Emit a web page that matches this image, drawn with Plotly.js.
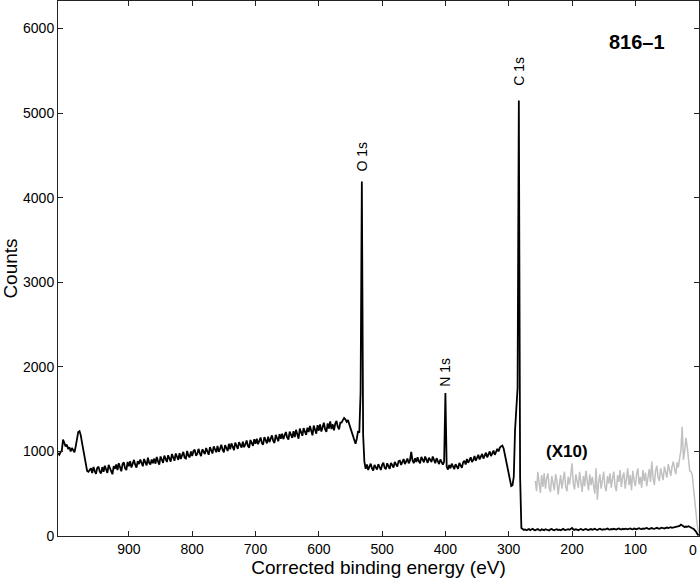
<!DOCTYPE html>
<html>
<head>
<meta charset="utf-8">
<script src="https://cdn.plot.ly/plotly-3.0.1.min.js"></script>
<style>
html,body{margin:0;padding:0;background:#fff;}
#chart{width:700px;height:578px;}
</style>
</head>
<body>
<div id="chart"></div>
<script>
// Survey spectrum: binding energy grid starts at 1012 eV, step -2 eV (down to 0 eV)
const energyStart = 1012;
const energyStep = -2;

// 1012 -> 962 eV
const countsHighBE = [980,960,990,1010,1140,1100,1060,1080,1030,1050,1000,1040,1020,990,1060,1150,1230,1240,1190,1100,1010,920,820,770,760,780];
// 960 -> 566 eV (sloping background)
const countsBackground = [
800,745,815,770,735,805,820,760,740,815,
760,830,785,745,840,800,765,730,825,795,
845,780,860,805,765,850,870,800,780,875,
825,885,810,855,900,840,810,885,850,905,
850,825,910,880,835,925,865,845,905,860,
915,855,935,880,845,940,890,865,950,900,
875,955,920,880,970,925,890,975,930,900,
980,910,955,995,925,915,1005,950,930,1000,
945,1005,1020,950,970,1030,980,945,1025,990,
970,1040,1000,960,1050,1010,975,1060,1015,990,
1065,995,1030,1080,1020,990,1075,1040,1005,1090,
1025,1095,1055,1015,1105,1065,1030,1110,1070,1045,
1115,1050,1085,1130,1065,1045,1135,1100,1065,1145,
1090,1150,1085,1125,1165,1100,1080,1170,1130,1095,
1175,1110,1150,1190,1125,1100,1195,1160,1120,1205,
1150,1210,1145,1190,1230,1165,1140,1235,1195,1160,
1240,1170,1255,1210,1150,1270,1220,1185,1275,1225,
1195,1280,1230,1300,1235,1190,1305,1250,1210,1310,
1245,1320,1235,1285,1340,1260,1230,1330,1270,1355,
1265,1320,1250,1330,1360,1290,1260,1340];
// 564 -> 528 eV (O 1s region)
const countsO1s = [1340,1370,1395,1380,1350,1370,1320,1280,1230,1180,1120,1090,1150,1240,1220,1700,4190,1200,880];
// 526 -> 404 eV
const countsMid = [
795,845,780,820,855,800,775,840,810,785,
850,815,780,840,865,805,790,860,825,795,
865,835,810,875,840,820,885,890,840,870,
910,850,880,915,860,890,995,895,860,920,
875,930,885,860,935,900,870,940,890,865,
925,900,875,940,890,860,920,885,850,905,
870,845];
// 402 -> 398 eV (N 1s)
const countsN1s = [880,1690,820];
// 396 -> 314 eV
const countsPreC = [
785,840,800,855,815,790,850,820,795,865,
825,805,870,890,845,910,865,900,930,875,
900,945,890,925,960,905,940,970,915,950,
985,930,965,1000,945,980,1010,960,995,1030,
1000,1045];
// 312 -> 280 eV (C 1s region)
const countsC1s = [1060,1070,1035,965,890,820,750,660,590,600,700,1250,1600,1750,5150,700,95];
// 278 -> 0 eV (low BE, as measured)
const countsLowBE = [
80,72,78,68,75,82,70,76,85,73,
68,77,82,71,66,79,74,69,81,76,
70,65,78,83,72,68,76,80,71,74,
67,78,84,73,70,77,81,74,86,95,
78,72,80,75,69,77,83,76,71,79,
84,75,70,78,82,74,79,85,77,72,
80,86,78,74,81,76,83,88,79,75,
82,78,85,80,76,84,89,81,77,85,
80,87,83,78,86,90,82,79,88,84,
80,87,92,85,81,88,84,90,95,87,
83,90,94,88,85,92,97,90,86,94,
99,92,88,96,100,94,98,104,97,101,
96,103,108,112,120,135,125,110,105,112,
108,115,104,95,92,85,70,50,25,5];

// Magnified (X10) low-BE part: 258 -> 0 eV, step -2 eV
const zoomStart = 258;
const countsX10 = [
650,530,760,600,510,720,580,740,560,680,
740,570,520,710,620,540,730,660,490,620,
720,560,650,760,580,530,700,610,720,860,
620,550,730,660,570,760,630,520,710,590,
770,640,540,730,600,700,570,500,800,430,
630,730,560,660,760,580,530,710,620,740,
570,680,760,590,530,720,640,780,580,700,
750,560,670,800,600,720,540,770,660,590,
730,800,610,700,570,780,650,750,590,720,
790,640,880,690,600,770,830,690,650,800,
740,660,820,750,690,850,770,710,820,880,
790,730,870,810,920,1010,1290,900,1010,1160,
1050,880,770,760,720,560,400,250,120,40];

const xTicks = [900,800,700,600,500,400,300,200,100,0];
// last label (0) sits on the right frame edge; it is drawn as an annotation nudged inward
const xTickText = ['900','800','700','600','500','400','300','200','100',''];
const edgeTickLabel = '0';
const yTicks = [0,1000,2000,3000,4000,5000,6000];

const peakLabels = ['O 1s','N 1s','C 1s'];
const peakLabelX = [532,400,284];
const peakLabelY = [4484,1935,5499];

const sampleName = '816–1';
const magLabel = '(X10)';

const countsSurvey = [].concat(countsHighBE, countsBackground, countsO1s, countsMid, countsN1s, countsPreC, countsC1s, countsLowBE);

const FONT = 'Liberation Sans, Arial, Helvetica, sans-serif';

const traces = [
  {
    type: 'scatter', mode: 'lines',
    x0: zoomStart, dx: energyStep, y: countsX10,
    line: {color: '#c0c0c0', width: 1.5},
    hoverinfo: 'skip'
  },
  {
    type: 'scatter', mode: 'lines',
    x0: energyStart, dx: energyStep, y: countsSurvey,
    line: {color: '#000000', width: 1.8},
    hoverinfo: 'skip'
  }
];

const annotations = peakLabels.map((t, i) => ({
  x: peakLabelX[i], y: peakLabelY[i], xref: 'x', yref: 'y',
  text: t, showarrow: false, textangle: -90,
  font: {family: FONT, size: 14, color: '#000'}
}));
annotations.push({
  x: 97, y: 5844, xref: 'x', yref: 'y', text: '<b>' + sampleName + '</b>', showarrow: false,
  font: {family: FONT, size: 20, color: '#000'}
});
annotations.push({
  x: 208, y: 1003, xref: 'x', yref: 'y', text: '<b>' + magLabel + '</b>', showarrow: false,
  font: {family: FONT, size: 17, color: '#000'}
});
annotations.push({
  x: xTicks[xTicks.length - 1], y: 0, xref: 'x', yref: 'y',
  xshift: -5.5, yshift: -14, text: edgeTickLabel, showarrow: false,
  xanchor: 'center', yanchor: 'middle',
  font: {family: FONT, size: 14, color: '#000'}
});

const layout = {
  width: 700, height: 578,
  margin: {l: 58, r: 1, t: 1, b: 42, pad: 0},
  paper_bgcolor: '#fff', plot_bgcolor: '#fff',
  showlegend: false,
  font: {family: FONT, size: 14, color: '#000'},
  xaxis: {
    range: [1012, -0.6],
    tickvals: xTicks,
    ticktext: xTickText,
    ticks: 'inside', ticklen: 5, tickwidth: 1, tickcolor: '#222',
    showline: true, linecolor: '#222', linewidth: 1, mirror: 'ticks',
    showgrid: false, zeroline: false,
    tickfont: {family: FONT, size: 14, color: '#000'},
    title: {text: 'Corrected binding energy (eV)', font: {family: FONT, size: 19, color: '#000'}, standoff: 2}
  },
  yaxis: {
    range: [0, 6325],
    tickvals: yTicks,
    ticks: 'inside', ticklen: 5, tickwidth: 1, tickcolor: '#222',
    showline: true, linecolor: '#222', linewidth: 1, mirror: 'ticks',
    showgrid: false, zeroline: false,
    tickfont: {family: FONT, size: 14, color: '#000'},
    title: {text: 'Counts', font: {family: FONT, size: 19, color: '#000'}, standoff: 4}
  },
  annotations: annotations
};

Plotly.newPlot('chart', traces, layout, {displayModeBar: false, staticPlot: true});
</script>
</body>
</html>
